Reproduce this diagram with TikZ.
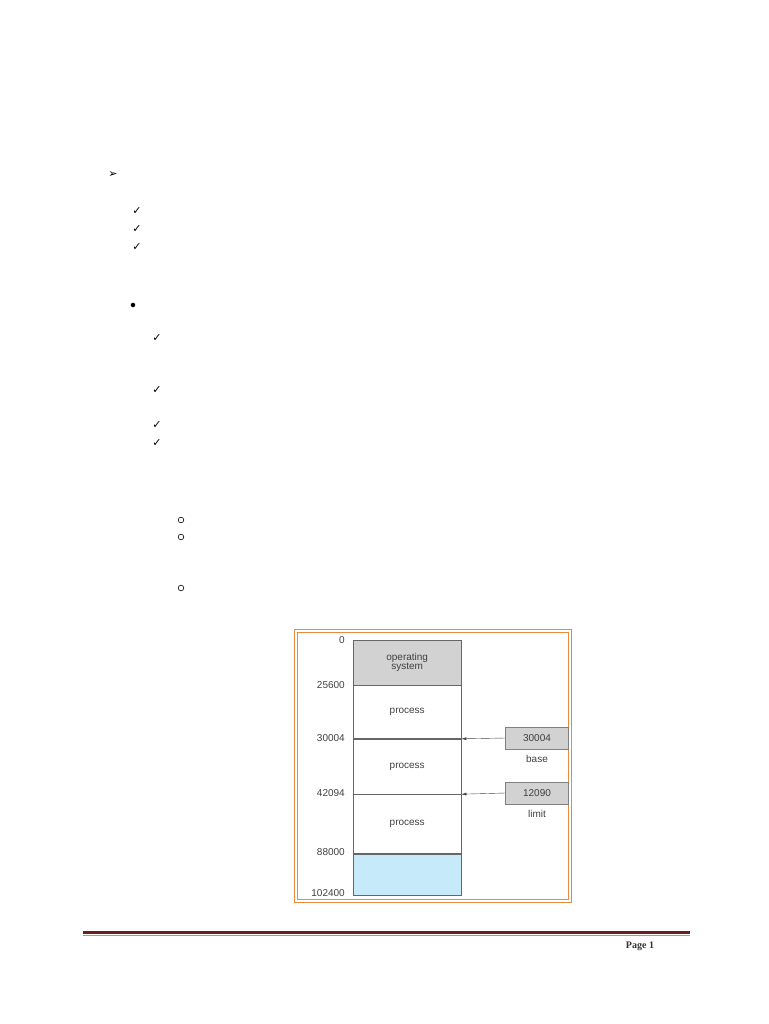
\documentclass[tikz,border=0pt]{standalone}
\usepackage{fontspec}
\setmainfont{Liberation Sans}
\newfontfamily\symfont{DejaVu Sans}
\newfontfamily\pagefont{Liberation Serif}
\usetikzlibrary{arrows.meta,positioning}
\definecolor{osgray}{RGB}{210,210,210}
\definecolor{freeblue}{RGB}{198,234,250}
\definecolor{framecol}{RGB}{232,140,60}
\definecolor{rulered}{RGB}{110,30,30}
\begin{document}
\begin{tikzpicture}[x=1pt,y=-1pt,
    every node/.style={font=\fontsize{10}{11}\selectfont, text=black!75},
    memrow/.style={draw=black!60, minimum width=108pt, inner sep=0pt},
    regbox/.style={draw=black!50, fill=osgray, minimum width=63pt, minimum height=22pt, inner sep=0pt},
    addr/.style={anchor=east, inner sep=0pt},
    bulletsym/.style={font=\symfont\fontsize{11}{12}\selectfont, text=black, inner sep=0pt}
  ]
  \useasboundingbox (0,0) rectangle (768,1024);

  % bullets of the page
  \node[bulletsym] (arr) at (113,175) {➢};
  \foreach \y in {211,229,247}{
    \node[bulletsym] at (137,\y) {✓};
  }
  \node[fill=black, circle, inner sep=1.6pt] (dot) at (133,305) {};
  \foreach \y in {338,390,425,443}{
    \node[bulletsym] at (157,\y) {✓};
  }
  \foreach \y in {520,537,588}{
    \node[draw=black, circle, inner sep=2pt, line width=0.6pt] at (181,\y) {};
  }

  % frame
  \draw[framecol, line width=1pt] (294,629) rectangle (571,902);
  \draw[framecol, line width=0.6pt] (297,632) rectangle (568,899);

  % memory
  \node[memrow, fill=osgray, minimum height=45pt, anchor=north west, align=center] (os) at (353,640) {operating\\[-2pt]system};
  \node[memrow, minimum height=53pt, below=0pt of os] (p1) {process};
  \node[memrow, minimum height=55pt, below=0pt of p1] (p2) {process};
  \node[memrow, minimum height=59pt, below=0pt of p2] (p3) {process};
  \node[memrow, fill=freeblue, minimum height=41pt, below=0pt of p3] (free) {};

  \node[addr] at (345,640) {0};
  \node[addr] at (345,685) {25600};
  \node[addr] at (345,738) {30004};
  \node[addr] at (345,793) {42094};
  \node[addr] at (345,852) {88000};
  \node[addr] at (345,893) {102400};

  % registers
  \node[regbox] (base) at (537,738) {30004};
  \node[below=3pt of base] (basel) {base};
  \node[regbox] (limit) at (537,793) {12090};
  \node[below=3pt of limit] (limitl) {limit};
  \draw[-{Latex[length=5pt,width=3pt]}, black!75] (base.west) -- (p1.south east);
  \draw[-{Latex[length=5pt,width=3pt]}, black!75] (limit.west) -- (p2.south east);

  % footer
  \draw[rulered, line width=3pt] (83,932) -- (690,932);
  \draw[rulered!50, line width=0.6pt] (83,935.5) -- (690,935.5);
  \node[font=\pagefont\bfseries\fontsize{10}{11}\selectfont, text=black!80] (pg) at (640,946) {Page 1};
\end{tikzpicture}
\end{document}
